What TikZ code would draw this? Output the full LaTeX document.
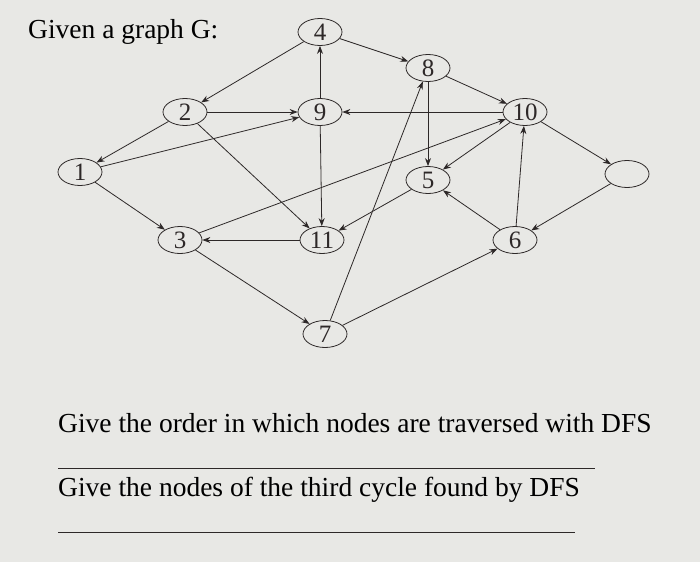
\documentclass[tikz,border=0pt]{standalone}
\usepackage{fontspec}
\setmainfont{Liberation Serif}
\usetikzlibrary{shapes.geometric,arrows.meta}
\definecolor{bg}{RGB}{232,232,229}
\definecolor{ink}{RGB}{45,40,40}
\begin{document}
\begin{tikzpicture}[x=1pt,y=-1pt,
  vert/.style={draw=ink,ellipse,minimum width=44pt,minimum height=27pt,inner sep=0pt,line width=0.8pt,font=\fontsize{25}{25}\selectfont,text=ink},
  edge/.style={draw=ink,line width=0.8pt,-{Stealth[length=8pt,width=6pt]}},
  txt/.style={anchor=west,inner sep=0pt,font=\fontsize{27.5}{30}\selectfont,text=black}]
\fill[bg] (0,0) rectangle (700,562);
\useasboundingbox (0,0) rectangle (700,562);
\node[txt] (title) at (28,32) {Given a graph G:};
\node[vert] (n4) at (320,32) {4};
\node[vert] (n8) at (428,68) {8};
\node[vert] (n2) at (185,112) {2};
\node[vert] (n9) at (320,112) {9};
\node[vert] (n10) at (525,112) {10};
\node[vert] (n1) at (80,172) {1};
\node[vert] (n5) at (428,180) {5};
\node[vert] (nx) at (627,174) {};
\node[vert] (n3) at (180,240) {3};
\node[vert] (n11) at (322,240) {11};
\node[vert] (n6) at (515,240) {6};
\node[vert] (n7) at (325,334) {7};
\foreach \a/\b in {n4/n8,n4/n2,n9/n4,n2/n9,n2/n1,n1/n9,n1/n3,n2/n11,n9/n11,n3/n10,n11/n3,n10/n9,n8/n10,n8/n5,n10/n5,n5/n11,n7/n8,n10/nx,nx/n6,n6/n10,n6/n5,n7/n6,n3/n7}
  \draw[edge] (\a) -- (\b);
\node[txt] (q1) at (58,423) {Give the order in which nodes are traversed with DFS};
\coordinate (l1a) at (58,468); \coordinate (l1b) at (595,468);
\draw[ink,line width=0.7pt] (l1a) -- (l1b);
\node[txt] (q2) at (58,490) {Give the nodes of the third cycle found by DFS};
\coordinate (l2a) at (58,532); \coordinate (l2b) at (575,532);
\draw[ink,line width=0.7pt] (l2a) -- (l2b);
\end{tikzpicture}
\end{document}
